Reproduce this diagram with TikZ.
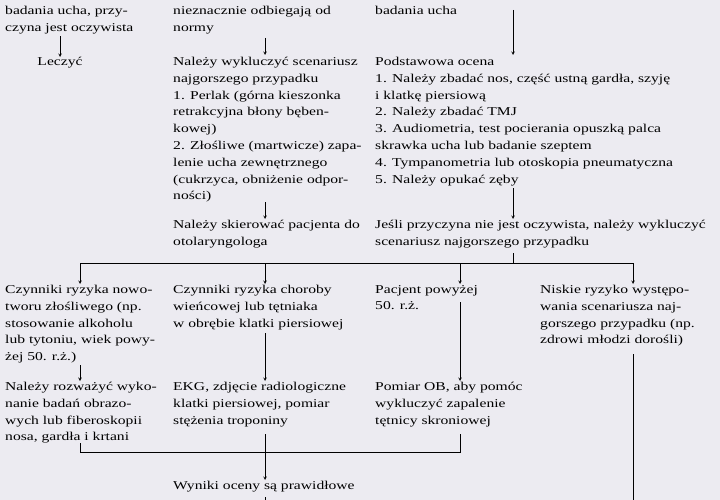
\documentclass[tikz,border=0pt]{standalone}
\usepackage{fontspec}
\setmainfont[FakeStretch=1.3]{Liberation Serif}
\usetikzlibrary{positioning}
\definecolor{paper}{RGB}{236,235,241}
\tikzset{
  txt/.style={anchor=north west, inner sep=0pt, align=left,
    font=\fontsize{12}{16.8}\selectfont},
  arr/.style={->, >=stealth, semithick},
  ln/.style={semithick}
}
\begin{document}
\begin{tikzpicture}[x=1pt, y=-1pt]
\fill[paper] (0,0) rectangle (720,500);
\useasboundingbox (0,0) rectangle (720,500);
% top row
\node[txt] (a0) at (5,6) {badania ucha, przy-\\czyna jest oczywista};
\node[txt] (b0) at (173,6) {nieznacznie odbiegają od\\normy};
\node[txt] (c0) at (375,6) {badania ucha};
\node[txt, anchor=north] (a1) at (60,57) {Leczyć};
\node[txt] (b1) at (173,57) {Należy wykluczyć scenariusz\\najgorszego przypadku\\1. Perlak (górna kieszonka\\retrakcyjna błony bęben-\\kowej)\\2. Złośliwe (martwicze) zapa-\\lenie ucha zewnętrznego\\(cukrzyca, obniżenie odpor-\\ności)};
\node[txt] (c1) at (375,57) {Podstawowa ocena\\1. Należy zbadać nos, część ustną gardła, szyję\\i klatkę piersiową\\2. Należy zbadać TMJ\\3. Audiometria, test pocierania opuszką palca\\skrawka ucha lub badanie szeptem\\4. Tympanometria lub otoskopia pneumatyczna\\5. Należy opukać zęby};
\node[txt] (b2) at (173,220) {Należy skierować pacjenta do\\otolaryngologa};
\node[txt] (c2) at (375,220) {Jeśli przyczyna nie jest oczywista, należy wykluczyć\\scenariusz najgorszego przypadku};
% risk groups
\node[txt] (r1) at (5,285) {Czynniki ryzyka nowo-\\tworu złośliwego (np.\\stosowanie alkoholu\\lub tytoniu, wiek powy-\\żej 50. r.ż.)};
\node[txt] (r2) at (173,285) {Czynniki ryzyka choroby\\wieńcowej lub tętniaka\\w obrębie klatki piersiowej};
\node[txt] (r3) at (375,285) {Pacjent powyżej\\50. r.ż.};
\node[txt] (r4) at (540,285) {Niskie ryzyko występo-\\wania scenariusza naj-\\gorszego przypadku (np.\\zdrowi młodzi dorośli)};
\node[txt] (s1) at (5,382) {Należy rozważyć wyko-\\nanie badań obrazo-\\wych lub fiberoskopii\\nosa, gardła i krtani};
\node[txt] (s2) at (173,382) {EKG, zdjęcie radiologiczne\\klatki piersiowej, pomiar\\stężenia troponiny};
\node[txt] (s3) at (375,382) {Pomiar OB, aby pomóc\\wykluczyć zapalenie\\tętnicy skroniowej};
\node[txt] (w) at (173,481) {Wyniki oceny są prawidłowe};
% connectors
\draw[arr] (a1.north |- a0.south) ++(0,2) -- (a1.north);
\draw[arr] (265,38) -- (265,55);
\draw[arr] (513,10) -- (513,55);
\draw[arr] (265,202) -- (265,219);
\draw[arr] (513,188) -- (513,219);
\draw[ln] (513,253) -- (513,263);
\draw[ln] (80,263) -- (633,263);
\foreach \x in {80,265,460,633} \draw[arr] (\x,263) -- (\x,284);
\draw[arr] (80,365) -- (80,381);
\draw[arr] (265,333) -- (265,381);
\draw[arr] (460,302) -- (460,381);
\draw[ln] (633,354) -- (633,500);
\draw[ln] (80,443) -- (80,452) -- (460,452) -- (460,434);
\draw[arr] (265,434) -- (265,480);
\draw[ln] (265,497) -- (265,500);
\end{tikzpicture}
\end{document}
